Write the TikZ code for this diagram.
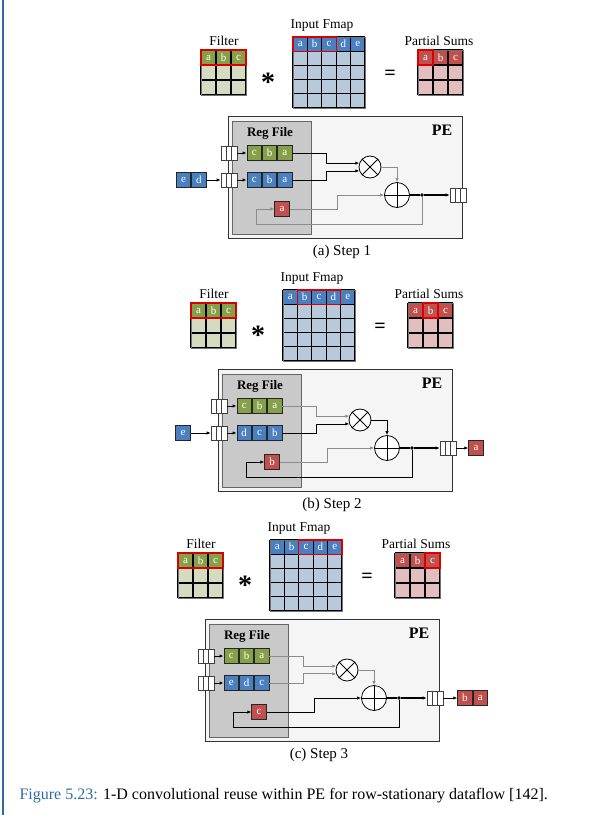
\documentclass[tikz,border=0pt]{standalone}
\usepackage{fontspec}
\setmainfont{Liberation Serif}
\usetikzlibrary{arrows.meta,calc}
\definecolor{dgreen}{HTML}{86A04A}
\definecolor{lgreen}{HTML}{D5DBBE}
\definecolor{dblue}{HTML}{4A7FC0}
\definecolor{lblue}{HTML}{B8C9DC}
\definecolor{dred}{HTML}{C0504D}
\definecolor{lred}{HTML}{E3BEBE}
\definecolor{pebg}{HTML}{F4F5F4}
\definecolor{rfbg}{HTML}{C9C9C9}
\definecolor{capblue}{HTML}{2F6BA5}
\tikzset{
 cellg/.style={draw=black!85, line width=0.9pt, fill=#1, minimum width=14.4pt, minimum height=15pt, inner sep=0, text=white, font=\fontsize{11}{11}\selectfont},
 fifobox/.style={draw=black!75, fill=white, minimum width=16pt, minimum height=14pt, inner sep=0, line width=0.6pt},
 arr/.style={-{Latex[length=4pt,width=3.4pt]}, line width=0.8pt},
 hl/.style={draw=red!85!black, line width=1.1pt},
 ttl/.style={font=\fontsize{13.5}{13.5}\selectfont},
 gline/.style={black!45, line width=1pt},
 bline/.style={black, line width=0.8pt},
}
\newcommand\ltr[1]{\ifcase#1 a\or b\or c\or d\or e\fi}
\newcommand\drawgrid[8]{%
 \fill[#7] (#1,#2) rectangle ++(#3*#5,#4*#6);
 \fill[#8] (#1,#2) rectangle ++(#3*#5,#6);
 \foreach \k in {0,...,#3} {\draw[line width=1.3pt] (#1+\k*#5,#2) -- ++(0,#4*#6);}
 \foreach \k in {0,...,#4} {\draw[line width=1.3pt] (#1,#2+\k*#6) -- ++(#3*#5,0);}
 \draw[black!55,line width=0.8pt] (#1,#2) rectangle ++(#3*#5,#4*#6);
}
\newcommand\fifo[2]{%
 \node[fifobox] (#1) at (#2) {};
 \draw[black!75,line width=0.6pt] ($(#1.north west)!1/3!(#1.north east)$) -- ($(#1.south west)!1/3!(#1.south east)$);
 \draw[black!75,line width=0.6pt] ($(#1.north west)!2/3!(#1.north east)$) -- ($(#1.south west)!2/3!(#1.south east)$);
}
\newcommand\stepfig[6]{%
\begin{scope}[shift={(#1,#2)}, name prefix=#3-]
 \node[ttl] at (224,41) {Filter};
 \drawgrid{201}{50}{3}{3}{15}{15}{lgreen}{dgreen}
 \foreach \l [count=\k from 0] in {a,b,c} \node[text=white,font=\fontsize{11}{11}\selectfont] at (201+\k*15+7.5,57.5) {\l};
 \draw[hl] (201,50) rectangle ++(45,15);
 \node[font=\fontsize{28}{28}\selectfont\bfseries] at (268,82) {*};
 \node[font=\fontsize{20}{20}\selectfont\bfseries] at (390,75) {=};
 \node[ttl] at (322,26) {Input Fmap};
 \drawgrid{293}{37}{5}{5}{14.4}{14.2}{lblue}{dblue}
 \foreach \l [count=\k from 0] in {a,b,c,d,e} \node[text=white,font=\fontsize{11}{11}\selectfont] at (293+\k*14.4+7.2,44.1) {\l};
 \draw[hl] (293+#4*14.4,37) rectangle ++(43.2,14.2);
 \node[ttl] at (439,41) {Partial Sums};
 \drawgrid{418}{50}{3}{3}{15}{15}{lred}{dred}
 \foreach \l [count=\k from 0] in {a,b,c} \node[text=white,font=\fontsize{11}{11}\selectfont] at (418+\k*15+7.5,57.5) {\l};
 \draw[hl] (418+#4*15,50) rectangle ++(15,15);
 \draw[fill=pebg, draw=black!80, line width=0.9pt] (228,116) rectangle (462,238);
 \draw[fill=rfbg, draw=black!60, line width=0.8pt] (232,121) rectangle (311,234);
 \node[font=\fontsize{13}{13}\selectfont\bfseries] at (270,133) {Reg File};
 \node[font=\fontsize{16}{16}\selectfont\bfseries] at (442,130) {PE};
 \fifo{gf}{229,153}
 \fifo{bf}{229,180}
 \node[cellg=dgreen] (ga) at (254.2,153) {c};
 \node[cellg=dgreen,anchor=west] (gb) at (ga.east) {b};
 \node[cellg=dgreen,anchor=west] (gc) at (gb.east) {a};
 \node[cellg=dblue] (ba) at (254.2,180) {\ltr{\numexpr#4+2\relax}};
 \node[cellg=dblue,anchor=west] (bb) at (ba.east) {\ltr{\numexpr#4+1\relax}};
 \node[cellg=dblue,anchor=west] (bc) at (bb.east) {\ltr{#4}};
 \node[cellg=dred] (ra) at (282,209) {\ltr{#4}};
 \node[circle,draw=black,fill=white,line width=0.8pt,minimum size=22pt,inner sep=0] (mult) at (370,167) {};
 \draw[line width=0.8pt] (mult.45) -- (mult.225) (mult.135) -- (mult.315);
 \node[circle,draw=black,fill=white,line width=0.8pt,minimum size=25pt,inner sep=0] (add) at (397,195) {};
 \draw[line width=0.8pt] (add.north) -- (add.south) (add.west) -- (add.east);
 \node[circle,fill=black,inner sep=1.3pt] (dot) at (422,195) {};
 \fifo{of}{458,195}
 \draw[arr] (gf.east) -- (ga.west);
 \draw[arr] (bf.east) -- (ba.west);
 \draw[arr,gcol] (gc.east) -- ++(34,0) |- (mult.160);
 \draw[arr,bcol] (bc.east) -- ++(34,0) |- (mult.200);
 \draw[arr,mcol] (mult.east) -| (add.north);
 \draw[arr,rcol] (ra.east) -- ++(48,0) |- (add.west);
 \draw[line width=1.8pt] (add.east) -- (dot);
 \draw[arr,line width=1.8pt] (dot) -- (of.west);
 \draw[arr,fcol] (dot) -- ++(0,29) -| ($(ra.west)+(-18,0)$) -- (ra.west);
 #5
 \node[font=\fontsize{15}{15}\selectfont] at (342,252) {#6};
\end{scope}}
\begin{document}
\begin{tikzpicture}[x=1pt,y=-1pt]
\useasboundingbox[fill=white] (0,0) rectangle (600,831);
\draw[capblue,line width=1.2pt] (3,0) -- (3,815);
\tikzset{gcol/.style=bline,bcol/.style=bline,mcol/.style=gline,rcol/.style=gline,fcol/.style=gline}
\stepfig{0}{0}{sa}{0}{%
 \node[cellg=dblue] (i1) at (183.5,180) {e};
 \node[cellg=dblue,anchor=west] (i2) at (i1.east) {d};
 \draw[arr] (i2.east) -- (bf.west);}{(a) Step 1}
\tikzset{gcol/.style=gline,bcol/.style=bline,mcol/.style=bline,rcol/.style=gline,fcol/.style=bline}
\stepfig{-10}{253}{sb}{1}{%
 \node[cellg=dblue] (i1) at (193,180) {e};
 \draw[arr] (i1.east) -- (bf.west);
 \node[cellg=dred,anchor=west] (o1) at ($(of.east)+(12,0)$) {a};
 \draw[arr] (of.east) -- (o1.west);}{(b) Step 2}
\tikzset{gcol/.style=gline,bcol/.style=gline,mcol/.style=gline,rcol/.style=bline,fcol/.style=bline}
\stepfig{-23}{503}{sc}{2}{%
 \node[cellg=dred,anchor=west] (o1) at ($(of.east)+(14,0)$) {b};
 \node[cellg=dred,anchor=west] (o2) at (o1.east) {a};
 \draw[arr] (of.east) -- (o1.west);}{(c) Step 3}
\node[anchor=west,font=\fontsize{16}{16}\selectfont] at (16,796) {\textcolor{capblue}{Figure 5.23:} 1-D convolutional reuse within PE for row-stationary dataflow [142].};
\end{tikzpicture}
\end{document}
